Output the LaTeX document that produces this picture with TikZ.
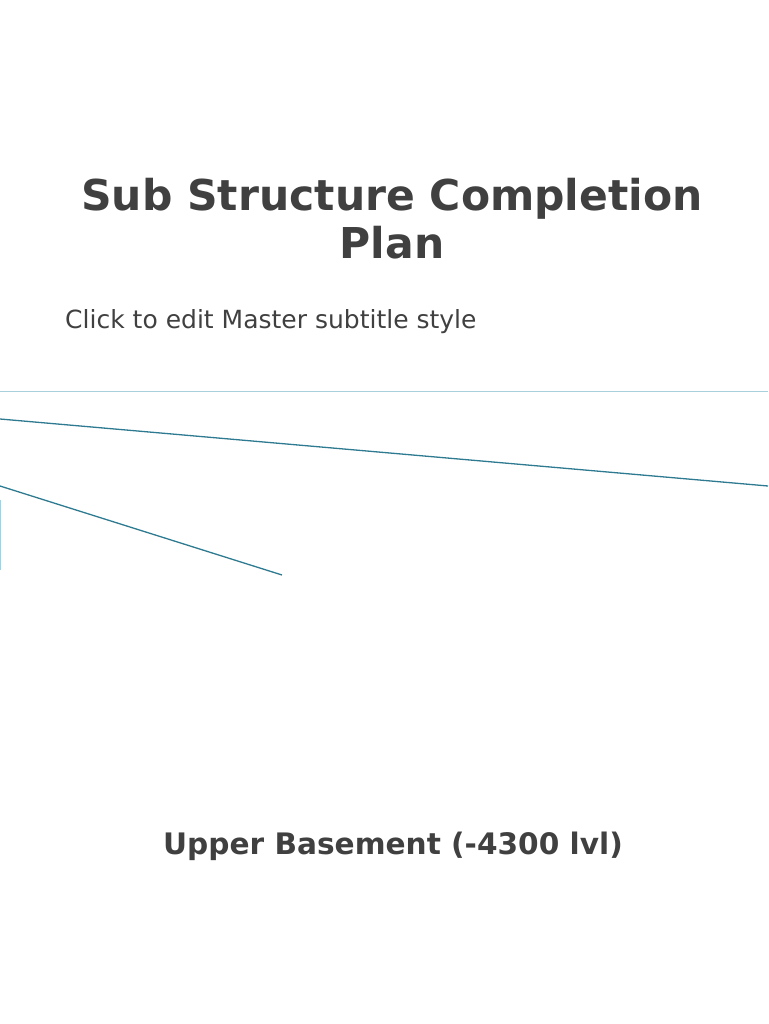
\documentclass[tikz,border=0pt]{standalone}
\usepackage{fontspec}
\setmainfont{DejaVu Sans}
\definecolor{txt}{HTML}{404040}
\definecolor{teal1}{HTML}{2E7A90}
\definecolor{lightb}{HTML}{A8D0DC}
\begin{document}
\begin{tikzpicture}[x=1pt,y=-1pt,txtstyle/.style={text=txt,inner sep=0pt}]
\useasboundingbox (0,0) rectangle (768,1024);
\node[txtstyle,font=\bfseries\fontsize{42.5}{48}\selectfont,align=center] (title) at (392,219) {Sub Structure Completion\\Plan};
\node[txtstyle,font=\fontsize{25}{30}\selectfont,anchor=west] (sub) at (65,322) {Click to edit Master subtitle style};
\node[txtstyle,font=\bfseries\fontsize{29.6}{34}\selectfont] (ub) at (393,846) {Upper Basement (-4300 lvl)};
\coordinate (a1) at (0,391); \coordinate (a2) at (768,391);
\coordinate (b1) at (0,419); \coordinate (b2) at (768,486);
\coordinate (c1) at (0,486); \coordinate (c2) at (282,575);
\coordinate (d1) at (0.5,500); \coordinate (d2) at (0.5,570);
\draw[lightb,line width=1pt] (a1) -- (a2);
\draw[teal1,line width=1.3pt] (b1) -- (b2);
\draw[teal1,line width=1.3pt] (c1) -- (c2);
\draw[lightb,line width=0.6pt] (d1) -- (d2);
\end{tikzpicture}
\end{document}
